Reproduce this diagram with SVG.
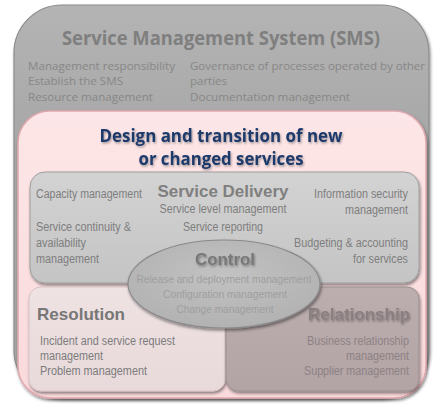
<svg xmlns="http://www.w3.org/2000/svg" width="437" height="408" viewBox="0 0 437 408">
<defs>
<linearGradient id="gOuter" x1="0" y1="0" x2="0" y2="1">
<stop offset="0" stop-color="#b4b4b4"/><stop offset="0.3" stop-color="#a9a9a9"/><stop offset="1" stop-color="#a4a4a4"/>
</linearGradient>
<linearGradient id="gPink" x1="0" y1="0" x2="0" y2="1">
<stop offset="0" stop-color="#fde6e7"/><stop offset="1" stop-color="#fadadc"/>
</linearGradient>
<linearGradient id="gSD" x1="0" y1="0" x2="0" y2="1">
<stop offset="0" stop-color="#d3d3d3"/><stop offset="1" stop-color="#c4c4c4"/>
</linearGradient>
<linearGradient id="gRes" x1="0" y1="0" x2="0" y2="1">
<stop offset="0" stop-color="#efe2e3"/><stop offset="1" stop-color="#e8d9da"/>
</linearGradient>
<linearGradient id="gRel" x1="0" y1="0" x2="0" y2="1">
<stop offset="0" stop-color="#bcadae"/><stop offset="1" stop-color="#b2a3a4"/>
</linearGradient>
<radialGradient id="gEll" cx="0.5" cy="0.4" r="0.6">
<stop offset="0" stop-color="#c2c2c2"/><stop offset="1" stop-color="#b2b2b2"/>
</radialGradient>
<filter id="sh" x="-10%" y="-10%" width="120%" height="125%">
<feDropShadow dx="1" dy="2" stdDeviation="1.5" flood-color="#000" flood-opacity="0.45"/>
</filter>
<filter id="tsh" x="-10%" y="-30%" width="120%" height="160%">
<feDropShadow dx="1" dy="1.5" stdDeviation="1" flood-color="#000" flood-opacity="0.35"/>
</filter>
</defs>
<style>
.cal{font-family:"Open Sans","Liberation Sans",sans-serif;}
.ar{font-family:"Liberation Sans",Arial,sans-serif;}
.smst{font-size:11px;fill:#878787;}
.sdt{font-size:12px;fill:#7e7e7e;}
.ct{font-size:11px;fill:#9e9e9e;}
.rt{font-size:12px;fill:#7c7c7c;}
.relt{font-size:12px;fill:#8d8284;}
.b{font-weight:bold;}
</style>
<rect width="437" height="408" fill="#ffffff"/>

<g id="sms">
<rect x="14" y="5" width="415" height="393" rx="48" ry="48" fill="url(#gOuter)" stroke="#8c8c8c" stroke-width="1.2" filter="url(#sh)"/>
<text class="cal b" x="221" y="45" font-size="20" fill="#7f7f7f" text-anchor="middle" textLength="318" lengthAdjust="spacingAndGlyphs">Service Management System (SMS)</text>
<text class="cal smst" x="28" y="70" textLength="147" lengthAdjust="spacingAndGlyphs">Management responsibility</text>
<text class="cal smst" x="28" y="85" textLength="95" lengthAdjust="spacingAndGlyphs">Establish the SMS</text>
<text class="cal smst" x="28" y="101" textLength="125" lengthAdjust="spacingAndGlyphs">Resource management</text>
<text class="cal smst" x="190" y="70" textLength="235" lengthAdjust="spacingAndGlyphs">Governance of processes operated by other</text>
<text class="cal smst" x="190" y="85" textLength="37" lengthAdjust="spacingAndGlyphs">parties</text>
<text class="cal smst" x="190" y="101" textLength="160" lengthAdjust="spacingAndGlyphs">Documentation management</text>
</g>

<g id="design">
<rect x="18" y="111" width="408" height="287" rx="32" ry="32" fill="url(#gPink)" stroke="#e0a9af" stroke-width="1.5" filter="url(#sh)"/>
<g filter="url(#tsh)">
<text class="cal b" x="221" y="142" font-size="17.5" fill="#1f3a6b" text-anchor="middle" textLength="243" lengthAdjust="spacingAndGlyphs">Design and transition of new</text>
<text class="cal b" x="221" y="165" font-size="17.5" fill="#1f3a6b" text-anchor="middle" textLength="165" lengthAdjust="spacingAndGlyphs">or changed services</text>
</g>
</g>

<g id="service-delivery">
<rect x="30" y="172" width="389" height="111" rx="15" ry="15" fill="url(#gSD)" stroke="#9e9e9e" stroke-width="1" filter="url(#sh)"/>
<text class="ar b" x="223" y="197" font-size="17" fill="#7f7f7f" text-anchor="middle" textLength="131" lengthAdjust="spacingAndGlyphs">Service Delivery</text>
<text class="ar sdt" x="36" y="198" textLength="106" lengthAdjust="spacingAndGlyphs">Capacity management</text>
<text class="ar sdt" x="223" y="213" text-anchor="middle" textLength="127" lengthAdjust="spacingAndGlyphs">Service level management</text>
<text class="ar sdt" x="223" y="231" text-anchor="middle" textLength="80" lengthAdjust="spacingAndGlyphs">Service reporting</text>
<text class="ar sdt" x="408" y="198" text-anchor="end" textLength="94" lengthAdjust="spacingAndGlyphs">Information security</text>
<text class="ar sdt" x="408" y="214" text-anchor="end" textLength="63" lengthAdjust="spacingAndGlyphs">management</text>
<text class="ar sdt" x="36" y="231" textLength="95" lengthAdjust="spacingAndGlyphs">Service continuity &amp;</text>
<text class="ar sdt" x="36" y="247" textLength="50" lengthAdjust="spacingAndGlyphs">availability</text>
<text class="ar sdt" x="36" y="263" textLength="63" lengthAdjust="spacingAndGlyphs">management</text>
<text class="ar sdt" x="408" y="247" text-anchor="end" textLength="114" lengthAdjust="spacingAndGlyphs">Budgeting &amp; accounting</text>
<text class="ar sdt" x="408" y="263" text-anchor="end" textLength="55" lengthAdjust="spacingAndGlyphs">for services</text>
</g>

<g id="resolution">
<rect x="29" y="287" width="196" height="104" rx="12" ry="12" fill="url(#gRes)" stroke="#d8c4c6" stroke-width="1" filter="url(#sh)"/>
<text class="ar b" x="37" y="320" font-size="17" fill="#777777" textLength="88" lengthAdjust="spacingAndGlyphs">Resolution</text>
<text class="ar rt" x="40" y="345" textLength="135" lengthAdjust="spacingAndGlyphs">Incident and service request</text>
<text class="ar rt" x="40" y="360" textLength="63" lengthAdjust="spacingAndGlyphs">management</text>
<text class="ar rt" x="40" y="375" textLength="107" lengthAdjust="spacingAndGlyphs">Problem management</text>
</g>

<g id="relationship">
<rect x="226" y="287" width="193" height="104" rx="12" ry="12" fill="url(#gRel)" stroke="#9a8d8e" stroke-width="1" filter="url(#sh)"/>
<text class="ar b" x="410" y="320" font-size="17" fill="#8a7f80" text-anchor="end" textLength="102" lengthAdjust="spacingAndGlyphs" filter="url(#tsh)">Relationship</text>
<text class="ar relt" x="409" y="345" text-anchor="end" textLength="102" lengthAdjust="spacingAndGlyphs">Business relationship</text>
<text class="ar relt" x="409" y="360" text-anchor="end" textLength="63" lengthAdjust="spacingAndGlyphs">management</text>
<text class="ar relt" x="409" y="375" text-anchor="end" textLength="105" lengthAdjust="spacingAndGlyphs">Supplier management</text>
</g>

<g id="control">
<ellipse cx="224" cy="284" rx="96" ry="44" fill="url(#gEll)" stroke="#8a8a8a" stroke-width="1.2" filter="url(#sh)"/>
<text class="ar b" x="225" y="265" font-size="17" fill="#787878" text-anchor="middle" textLength="60" lengthAdjust="spacingAndGlyphs" filter="url(#tsh)">Control</text>
<text class="ar ct" x="224" y="283" text-anchor="middle" textLength="175" lengthAdjust="spacingAndGlyphs">Release and deployment management</text>
<text class="ar ct" x="225" y="298" text-anchor="middle" textLength="124" lengthAdjust="spacingAndGlyphs">Configuration management</text>
<text class="ar ct" x="225" y="313" text-anchor="middle" textLength="97" lengthAdjust="spacingAndGlyphs">Change management</text>
</g>

<g id="connectors"/>
</svg>
